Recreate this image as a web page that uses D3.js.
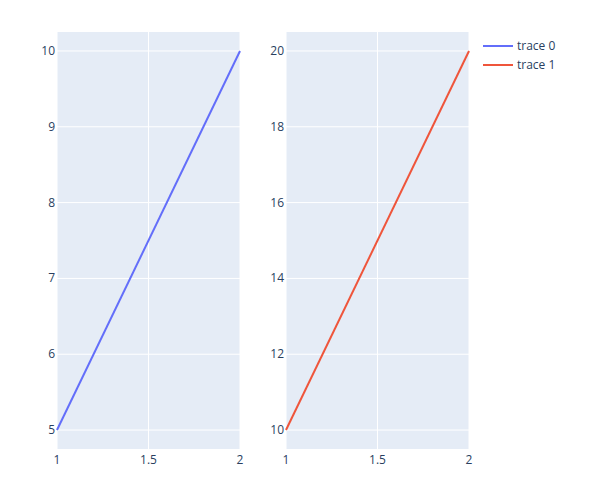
<!DOCTYPE html>
<html><head><meta charset="utf-8">
<script src="https://cdn.jsdelivr.net/npm/d3@7"></script>
<style>body{margin:0;background:#fff}text{font-family:"Open Sans",sans-serif;font-size:12px;fill:#2a3f5f}</style>
</head><body>
<svg id="c" width="600" height="494"></svg>
<script>
const xValues=[1,2];
const trace0=[5,10];
const trace1=[10,20];
const names=["trace 0","trace 1"];
const colors=["#636efa","#EF553B"];
const xTicks=[1,1.5,2];
const yTicks0=[5,6,7,8,9,10];
const yTicks1=[10,12,14,16,18,20];

const svg=d3.select("#c");
const plotTop=32,plotBottom=449;
const panels=[
 {x0:57,x1:240,dom:[4.75,10.25],data:trace0,ticks:yTicks0,color:colors[0]},
 {x0:286,x1:469,dom:[9.5,20.5],data:trace1,ticks:yTicks1,color:colors[1]}
];
panels.forEach(p=>{
 const x=d3.scaleLinear().domain([1,2]).range([p.x0,p.x1]);
 const y=d3.scaleLinear().domain(p.dom).range([plotBottom,plotTop]);
 const g=svg.append("g");
 g.append("rect").attr("x",p.x0).attr("y",plotTop).attr("width",p.x1-p.x0).attr("height",plotBottom-plotTop).attr("fill","#e5ecf6");
 g.selectAll(".gx").data(xTicks).join("line").attr("x1",d=>x(d)).attr("x2",d=>x(d)).attr("y1",plotTop).attr("y2",plotBottom).attr("stroke","#fff");
 g.selectAll(".gy").data(p.ticks).join("line").attr("x1",p.x0).attr("x2",p.x1).attr("y1",d=>y(d)).attr("y2",d=>y(d)).attr("stroke","#fff");
 g.selectAll(".tx").data(xTicks).join("text").attr("x",d=>x(d)).attr("y",plotBottom+15).attr("text-anchor","middle").text(d=>d);
 g.selectAll(".ty").data(p.ticks).join("text").attr("x",p.x0-2).attr("y",d=>y(d)+4).attr("text-anchor","end").text(d=>d);
 g.append("path").datum(xValues.map((v,i)=>[v,p.data[i]])).attr("fill","none").attr("stroke",p.color).attr("stroke-width",2)
  .attr("d",d3.line().x(d=>x(d[0])).y(d=>y(d[1])));
});
const lg=svg.append("g");
names.forEach((n,i)=>{
 const yy=46+i*19;
 lg.append("line").attr("x1",483).attr("x2",513).attr("y1",yy).attr("y2",yy).attr("stroke",colors[i]).attr("stroke-width",2);
 lg.append("text").attr("x",517).attr("y",yy+4).text(n);
});
</script></body></html>
